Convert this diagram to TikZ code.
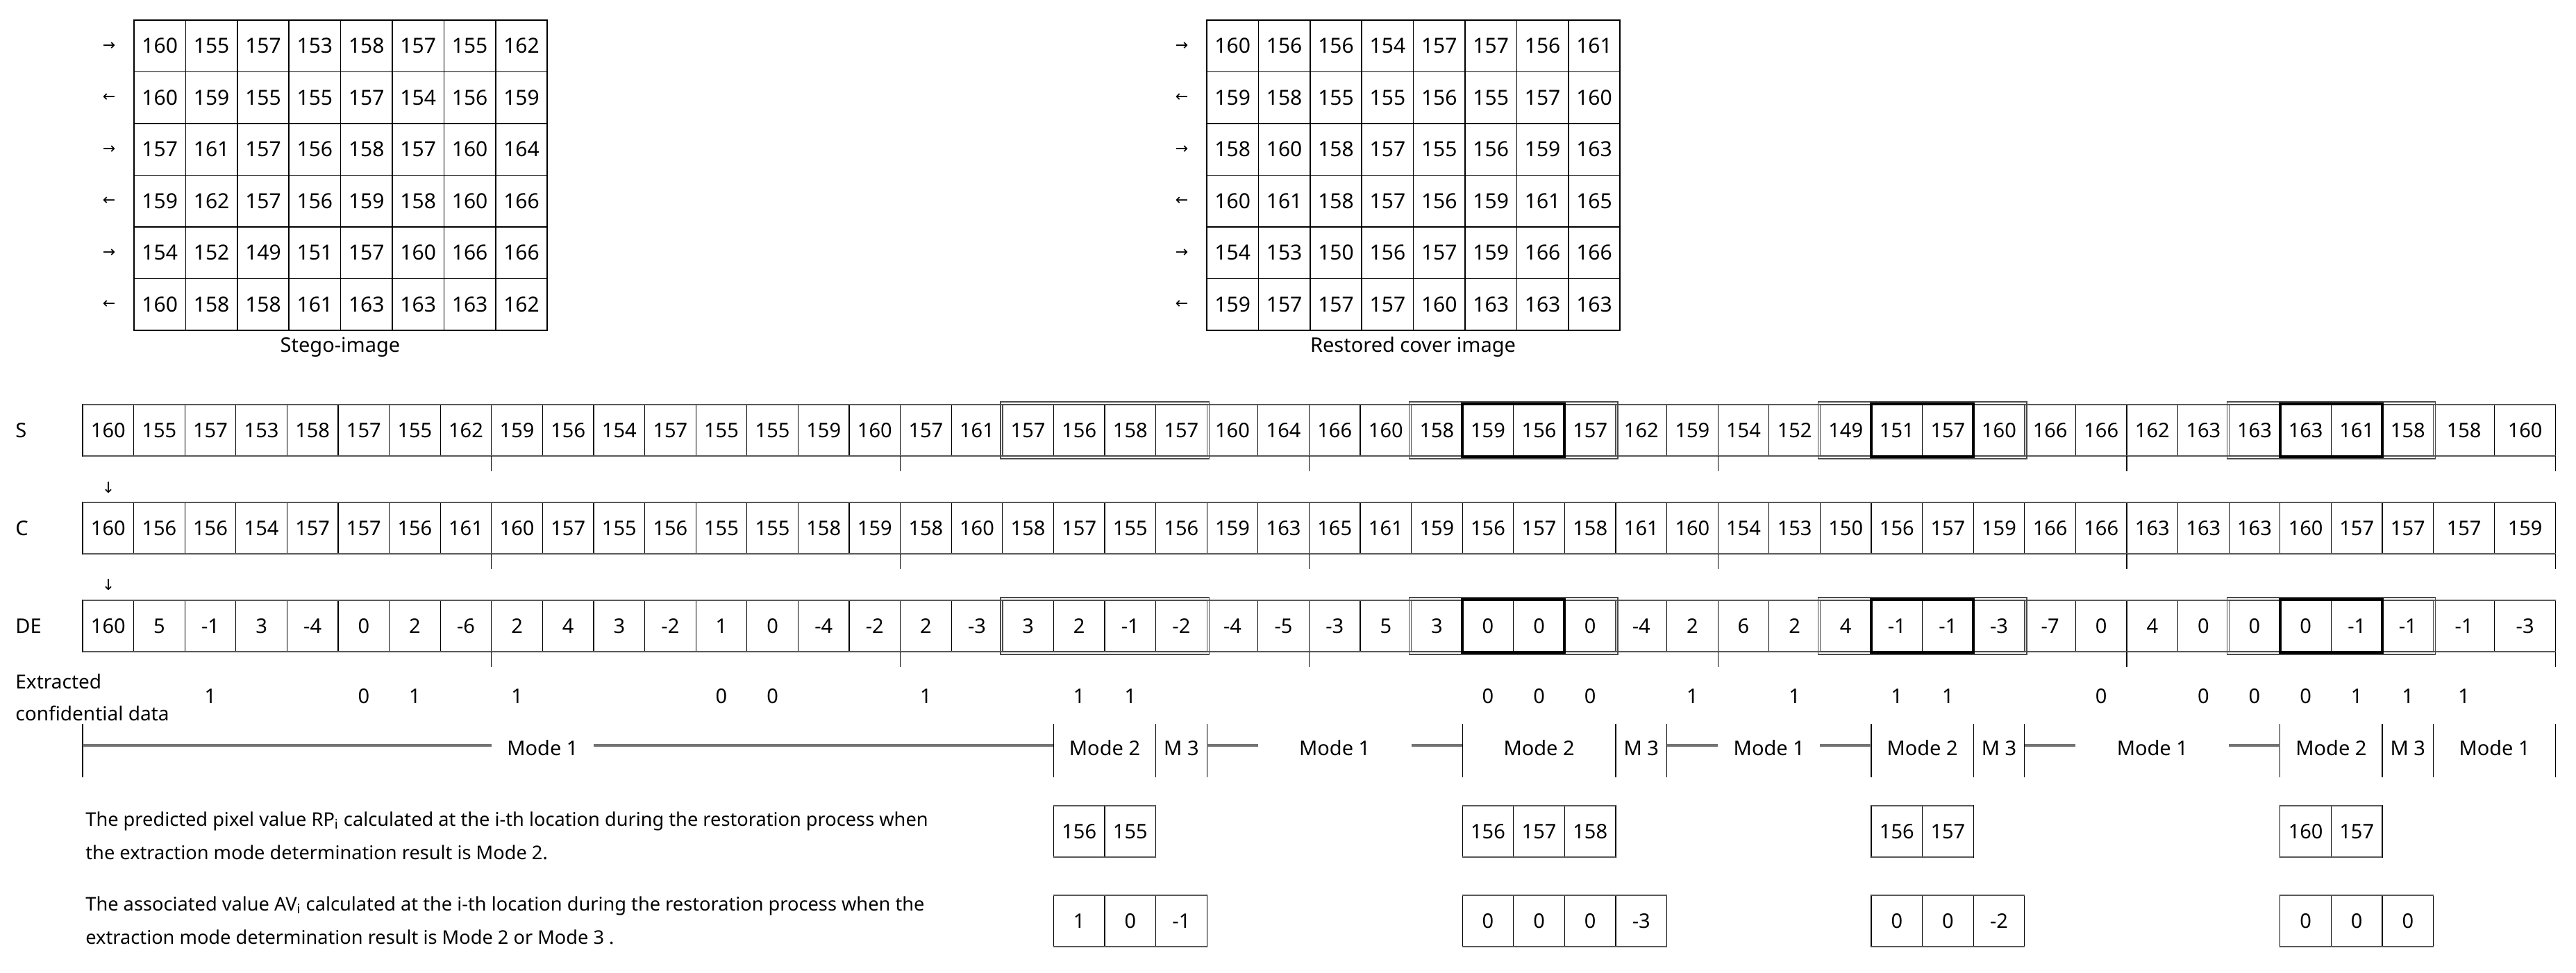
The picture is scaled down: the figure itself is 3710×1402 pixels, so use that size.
\documentclass[tikz,border=0pt]{standalone}
\usepackage{fontspec}
\setmainfont{Noto Sans}
\newfontfamily\arrfont{DejaVu Sans}
\begin{document}
\begin{tikzpicture}[x=0.5pt,y=-0.5pt,
  cell/.style={draw,line width=0.6pt,minimum width=36.8pt,minimum height=37pt,inner sep=0pt,outer sep=0pt,font=\fontsize{14.5}{16}\selectfont},
  gcell/.style={draw,line width=0.8pt,minimum width=37.2pt,minimum height=37.2pt,inner sep=0pt,outer sep=0pt,font=\fontsize{15}{16}\selectfont},
  rowedge/.style={line width=1.4pt,black!65},
  dbl/.style={line width=0.7pt,black!70},
  thk/.style={line width=2pt,black},
  tick/.style={line width=0.6pt},
  modeline/.style={line width=1.6pt,black!55},
  lbl/.style={font=\fontsize{14.5}{16}\selectfont,inner sep=0pt},
  txt/.style={font=\fontsize{13.6}{24}\selectfont,align=left,inner sep=0pt,anchor=west},
  arr/.style={font=\arrfont\fontsize{11}{12}\selectfont,inner sep=0pt}]
\useasboundingbox (0,0) rectangle (3710,1402);
\def\bx#1{{119+(#1)*73.6+max((#1)-46,0)*14.4}}
% ---------- top grids
\foreach \r [count=\j from 0] in {{160,155,157,153,158,157,155,162},{160,159,155,155,157,154,156,159},{157,161,157,156,158,157,160,164},{159,162,157,156,159,158,160,166},{154,152,149,151,157,160,166,166},{160,158,158,161,163,163,163,162}}{
  \foreach \v [count=\i from 0] in \r {
    \node[gcell] (L\j-\i) at ({193+(\i+0.5)*74.4},{29+(\j+0.5)*74.5}) {\v};
  }
}
\foreach \r [count=\j from 0] in {{160,156,156,154,157,157,156,161},{159,158,155,155,156,155,157,160},{158,160,158,157,155,156,159,163},{160,161,158,157,156,159,161,165},{154,153,150,156,157,159,166,166},{159,157,157,157,160,163,163,163}}{
  \foreach \v [count=\i from 0] in \r {
    \node[gcell] (R\j-\i) at ({1738+(\i+0.5)*74.4},{29+(\j+0.5)*74.5}) {\v};
  }
}
\foreach \j in {0,2,4}{
  \node[arr] (la\j) at (157,{29+(\j+0.5)*74.5}) {→};
  \node[arr] (ra\j) at (1702,{29+(\j+0.5)*74.5}) {→};
}
\foreach \j in {1,3,5}{
  \node[arr] (la\j) at (157,{29+(\j+0.5)*74.5}) {←};
  \node[arr] (ra\j) at (1702,{29+(\j+0.5)*74.5}) {←};
}
\node[lbl] (cap1) at (490,500) {Stego-image};
\node[lbl] (cap2) at (2035,500) {Restored cover image};
% ---------- rows
\foreach \name/\yt/\lst in {
 S/583/{160,155,157,153,158,157,155,162,159,156,154,157,155,155,159,160,157,161,157,156,158,157,160,164,166,160,158,159,156,157,162,159,154,152,149,151,157,160,166,166,162,163,163,163,161,158,158,160},
 C/724/{160,156,156,154,157,157,156,161,160,157,155,156,155,155,158,159,158,160,158,157,155,156,159,163,165,161,159,156,157,158,161,160,154,153,150,156,157,159,166,166,163,163,163,160,157,157,157,159},
 D/865/{160,5,-1,3,-4,0,2,-6,2,4,3,-2,1,0,-4,-2,2,-3,3,2,-1,-2,-4,-5,-3,5,3,0,0,0,-4,2,6,2,4,-1,-1,-3,-7,0,4,0,0,0,-1,-1,-1,-3}}{
  \foreach \v [count=\i from 0] in \lst {
    \node[cell,minimum width={(\i>45)*7.2pt+36.8pt}] (\name\i) at (\bx{\i+0.5},{\yt+37}) {\v};
  }
  \draw[rowedge] (\bx{0},\yt) -- (\bx{48},\yt);
  \draw[rowedge] (\bx{0},{\yt+74}) -- (\bx{48},{\yt+74});
  \foreach \b in {8,16,24,32,40,48}{
    \draw[tick] (\bx{\b},{\yt+74}) -- (\bx{\b},{\yt+96});
  }
}
\node[lbl,anchor=west] (labS) at (22,620) {S};
\node[lbl,anchor=west] (labC) at (22,761) {C};
\node[lbl,anchor=west] (labD) at (22,902) {DE};
\node[arr] (dn1) at (156,703) {↓};
\node[arr] (dn2) at (156,843) {↓};
% double and thick boxes
\foreach \yt in {583,865}{
  \foreach \a/\b in {18/22,26/30,34/38,42/46}{
    \draw[dbl] ({119+\a*73.6-3},{\yt-4}) rectangle ({119+\b*73.6+3},{\yt+78});
    \draw[dbl] ({119+\a*73.6},{\yt}) rectangle ({119+\b*73.6},{\yt+74});
  }
  \foreach \a/\b in {27/29,35/37,43/45}{
    \draw[thk] (\bx{\a},{\yt-1}) rectangle (\bx{\b},{\yt+75});
  }
}
% ---------- extracted data
\node[txt,font=\fontsize{14}{23}\selectfont] (ext) at (22,1005) {Extracted\\confidential data};
\foreach \c/\v in {2/1,5/0,6/1,8/1,12/0,13/0,16/1,19/1,20/1,27/0,28/0,29/0,31/1,33/1,35/1,36/1,39/0,41/0,42/0,43/0,44/1,45/1,46/1}{
  \node[lbl] (e\c) at (\bx{\c+0.5},1003) {\v};
}
% ---------- modes
\foreach \b in {0,19,21,22,27,30,31,35,37,38,43,45,46,48}{
  \coordinate (mt\b) at (\bx{\b},1043);
  \draw[tick] (mt\b) -- ++(0,77);
}
\foreach \a/\b in {0/8,10/19,22/23,26/27,31/32,34/35,38/39,42/43}{
  \draw[modeline] (\bx{\a},1074) -- (\bx{\b},1074);
}
\foreach \p/\t [count=\k] in {9/Mode 1,20/Mode 2,21.5/M 3,24.5/Mode 1,28.5/Mode 2,30.5/M 3,33/Mode 1,36/Mode 2,37.5/M 3,40.5/Mode 1,44/Mode 2,45.5/M 3,47/Mode 1}{
  \node[lbl] (m\k) at (\bx{\p},1078) {\t};
}
% ---------- bottom
\node[txt] (t1) at (123,1204) {The predicted pixel value RP\textsubscript{i} calculated at the i-th location during the restoration process when\\the extraction mode determination result is Mode 2.};
\node[txt] (t2) at (123,1326) {The associated value AV\textsubscript{i} calculated at the i-th location during the restoration process when the\\extraction mode determination result is Mode 2 or Mode 3 .};
\foreach \c/\v in {19/156,20/155,27/156,28/157,29/158,35/156,36/157,43/160,44/157}{
  \node[cell] (rp\c) at (\bx{\c+0.5},1198) {\v};
}
\foreach \c/\v in {19/1,20/0,21/-1,27/0,28/0,29/0,30/-3,35/0,36/0,37/-2,43/0,44/0,45/0}{
  \node[cell] (av\c) at (\bx{\c+0.5},1327) {\v};
}
\foreach \a/\b in {19/21,27/30,35/37,43/45}{
  \draw[rowedge] (\bx{\a},1161) -- (\bx{\b},1161);
  \draw[rowedge] (\bx{\a},1235) -- (\bx{\b},1235);
}
\foreach \a/\b in {19/22,27/31,35/38,43/46}{
  \draw[rowedge] (\bx{\a},1290) -- (\bx{\b},1290);
  \draw[rowedge] (\bx{\a},1364) -- (\bx{\b},1364);
}
\end{tikzpicture}
\end{document}
